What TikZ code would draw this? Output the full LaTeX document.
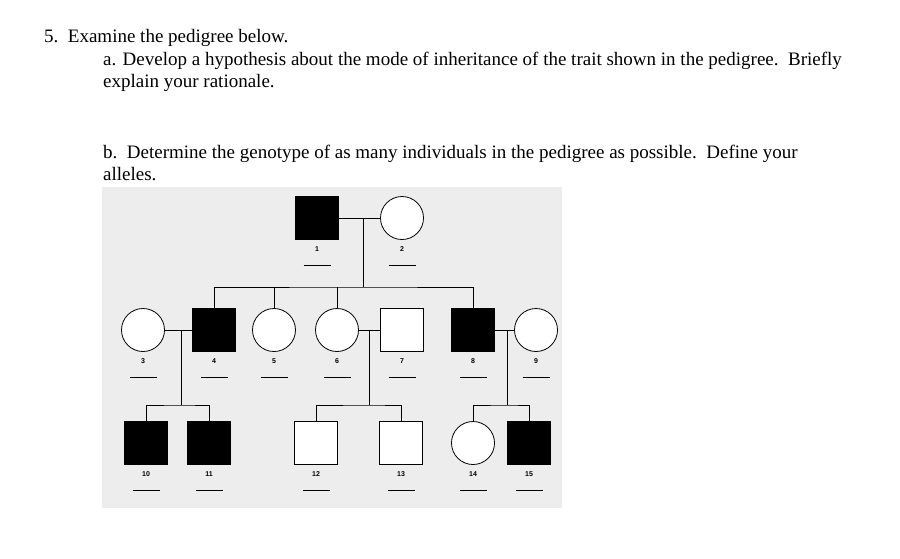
\documentclass[tikz,border=0pt]{standalone}
\usepackage{fontspec}
\setmainfont{Liberation Serif}
\newfontfamily\lblfont{Liberation Sans}
\begin{document}
\begin{tikzpicture}[x=1pt,y=-1pt,
  txt/.style={anchor=base west,inner sep=0pt,font=\fontsize{19}{22}\selectfont},
  male/.style={draw,line width=0.8pt,minimum size=43pt,inner sep=0pt,rectangle},
  female/.style={draw,line width=0.8pt,minimum size=43pt,inner sep=0pt,circle},
  maff/.style={male,fill=black},
  lbl/.style={inner sep=0pt,font=\lblfont\bfseries\fontsize{7}{8}\selectfont},
  ln/.style={line width=0.8pt}]
\useasboundingbox (0,0) rectangle (900,558);
\fill[white] (0,0) rectangle (900,558);
\node[txt] (t1) at (44,42) {5.\ \ Examine the pedigree below.};
\node[txt] (t2) at (103,65) {a. Develop a hypothesis about the mode of inheritance of the trait shown in the pedigree.\ \ Briefly};
\node[txt] (t3) at (103,87) {explain your rationale.};
\node[txt] (t4) at (103,158) {b.\ \ Determine the genotype of as many individuals in the pedigree as possible.\ \ Define your};
\node[txt] (t5) at (103,180) {alleles.};
\fill[black!7] (102,187) rectangle (562,508);
% individuals
\foreach \n/\x/\y/\s in {1/317/218/maff,2/402/218/female,
  3/143/330/female,4/214/330/maff,5/274/330/female,6/337/330/female,7/402/330/male,8/473/330/maff,9/536/330/female,
  10/146/443/maff,11/209/443/maff,12/316/443/male,13/401/443/male,14/473/443/female,15/529/443/maff}{
  \node[\s,fill=white] (p\n) at (\x,\y) {};
  \ifx\s\empty\fi
  \node[lbl] (l\n) at (\x,\y+31) {\n};
  \draw[ln] (\x-13.5,\y+47) -- (\x+13.5,\y+47);
}
\foreach \n in {1,4,8,10,11,15}{\fill[black] (p\n.south west) rectangle (p\n.north east);}
% matings
\draw[ln] (p1) -- (p2);
\coordinate (m1) at (363,218);
\coordinate (s1) at (363,287);
\draw[ln] (m1) -- (s1);
\draw[ln] (p4.north) |- (s1) -| (p8.north);
\draw[ln] (p5.north) -- (p5.north |- s1);
\draw[ln] (p6.north) -- (p6.north |- s1);
\draw[ln] (p3) -- (p4);
\draw[ln] (p6) -- (p7);
\draw[ln] (p8) -- (p9);
\foreach \a/\b/\c/\x in {10/11/a/181,12/13/b/369,14/15/c/507}{
  \coordinate (m\c) at (\x,330);
  \coordinate (s\c) at (\x,405);
  \draw[ln] (m\c) -- (s\c);
  \draw[ln] (p\a.north) |- (s\c) -| (p\b.north);
}
\end{tikzpicture}
\end{document}
